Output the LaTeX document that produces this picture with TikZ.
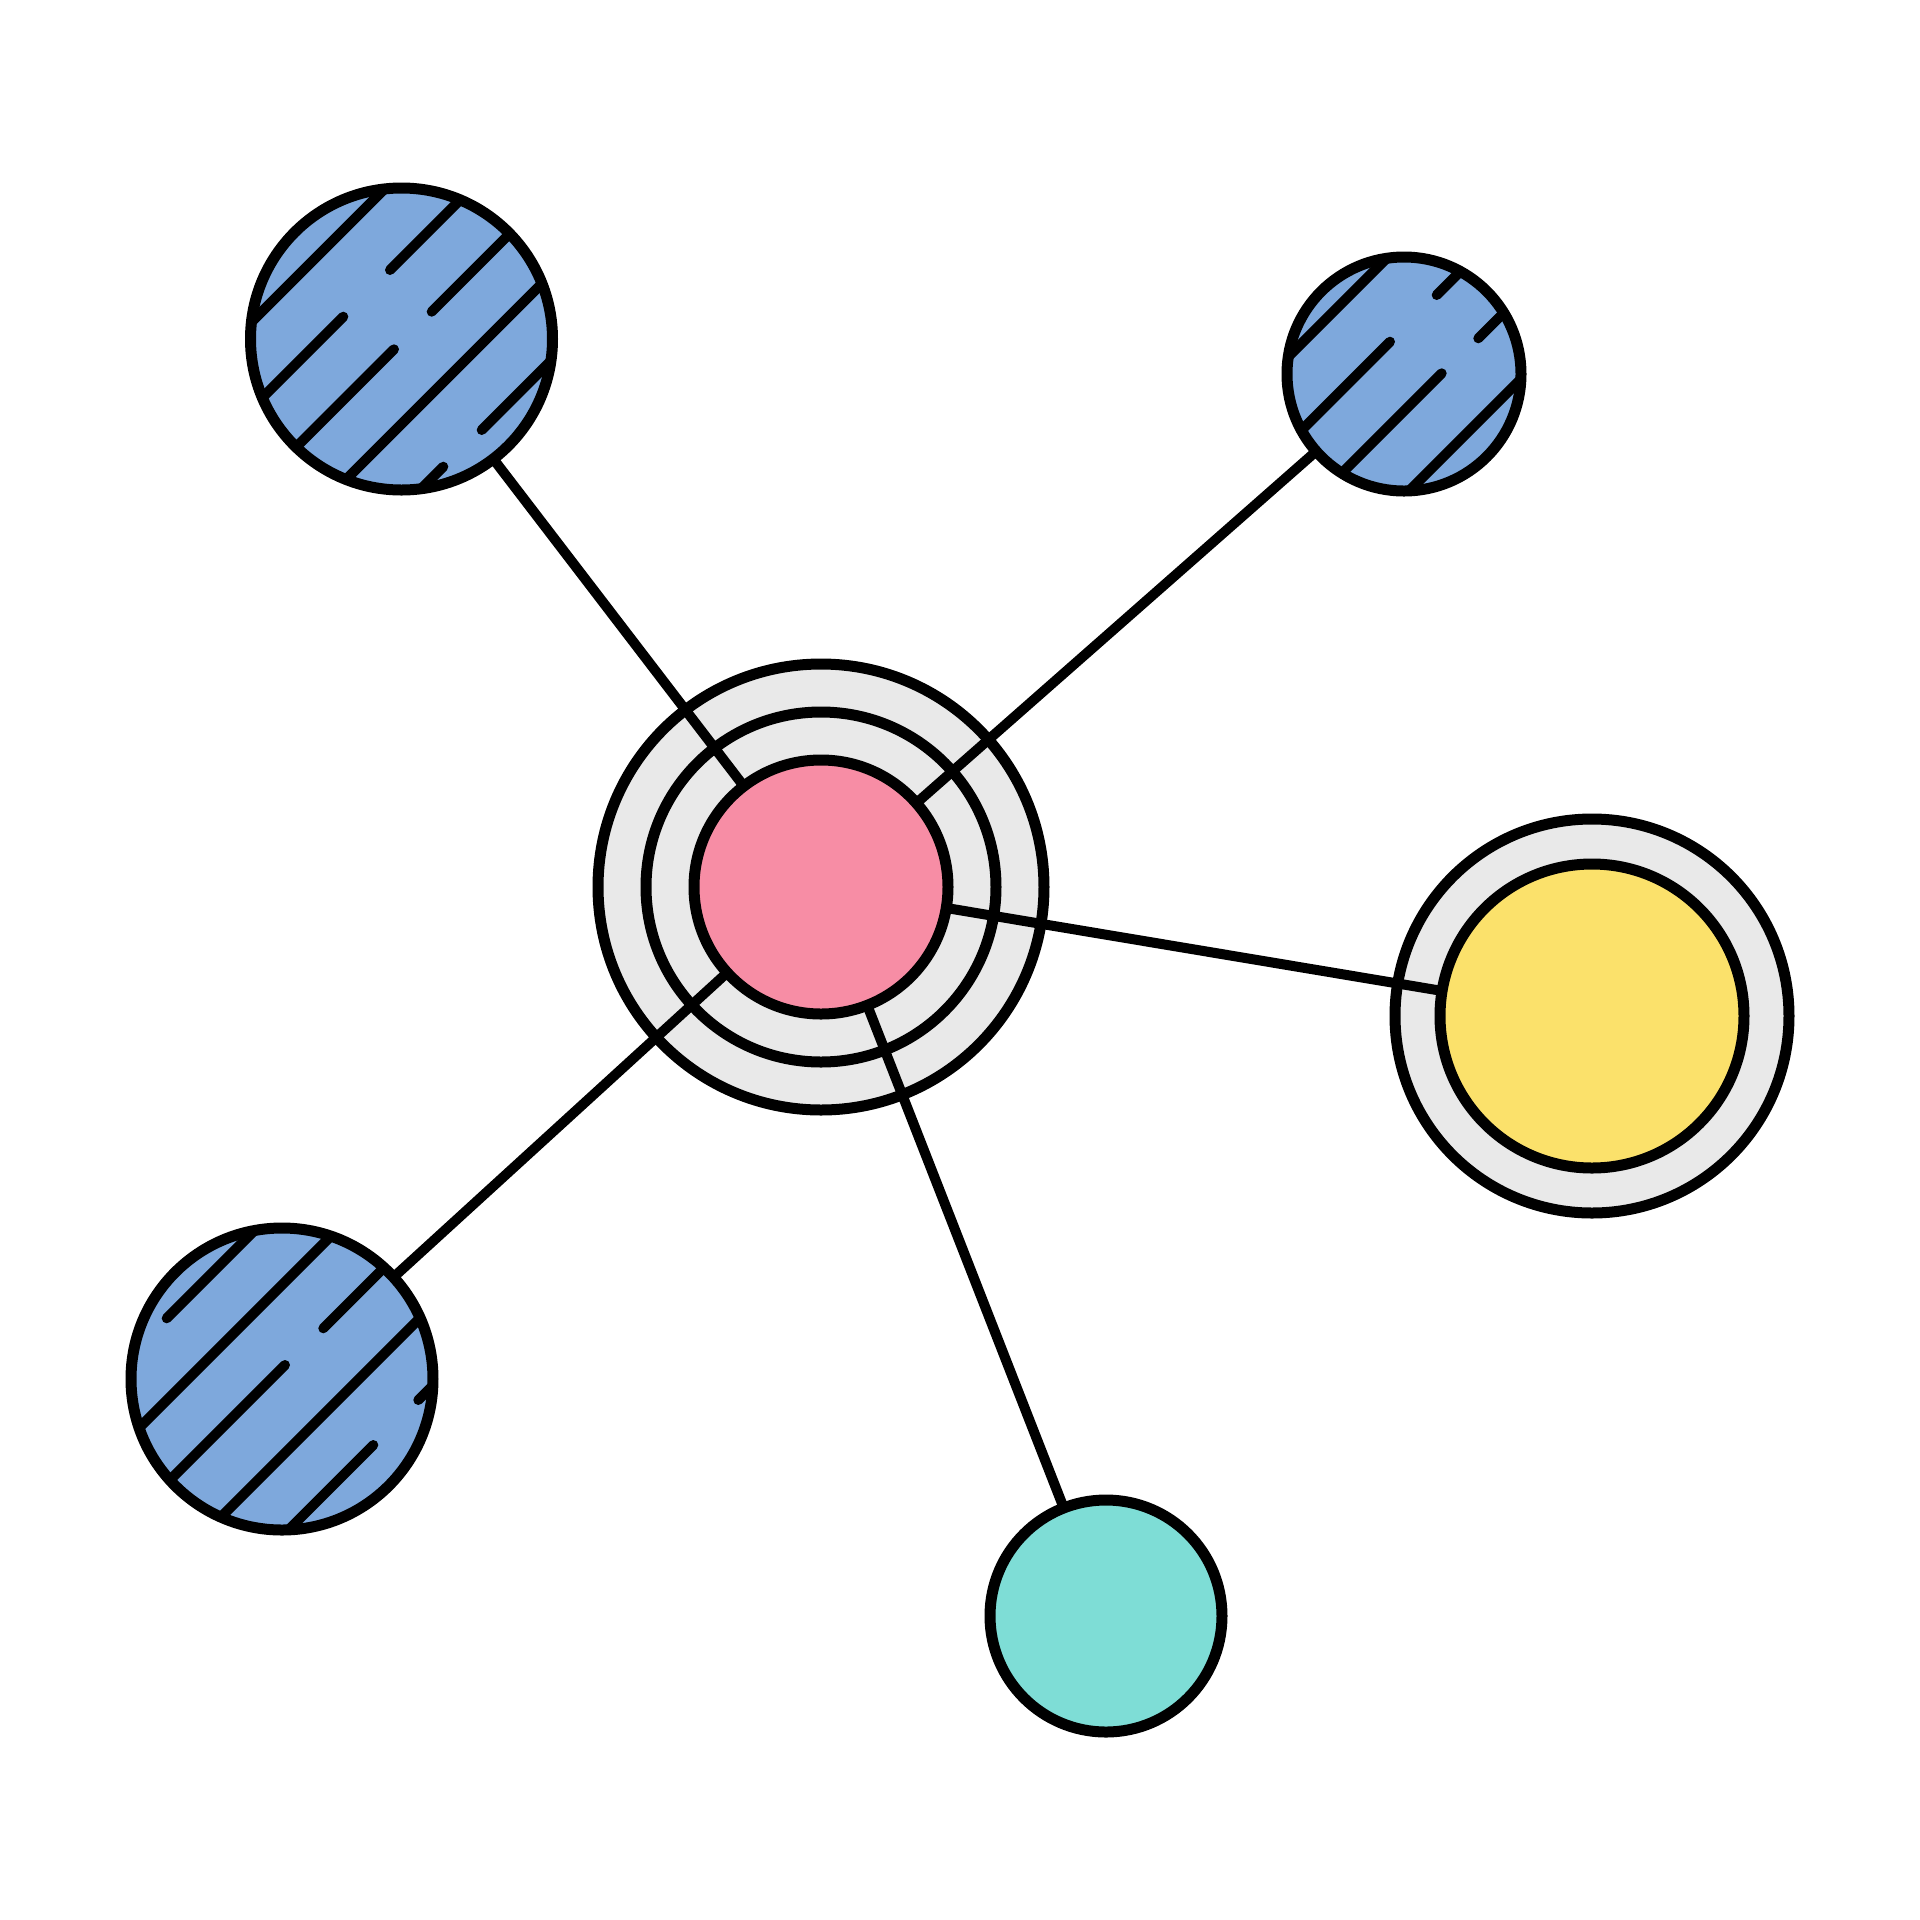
\documentclass[tikz,border=0pt]{standalone}
\usetikzlibrary{calc}
\pgfdeclarelayer{bg}
\pgfdeclarelayer{edges}
\pgfsetlayers{bg,edges,main}
\definecolor{cblue}{HTML}{7EA8DC}
\definecolor{cpink}{HTML}{F78DA5}
\definecolor{cyellow}{HTML}{FBE16B}
\definecolor{cteal}{HTML}{7EDDD6}
\definecolor{cgray}{HTML}{E9E9E9}
\newcommand\hup[2]{\draw[hatch] ($(pp)+(#1,#2)$) -- ++(300,-300);}
\newcommand\hdn[2]{\draw[hatch] ($(pp)+(#1,#2)$) -- ++(-300,300);}
\newcommand\hfl[2]{\draw[hatch] ($(pp)+(#1,#2)+(-300,300)$) -- ++(600,-600);}
\begin{document}
\begin{tikzpicture}[x=0.1mm,y=-0.1mm,
  disc/.style={circle,draw=black,line width=1.1mm,inner sep=0pt,outer sep=0pt,minimum size=#1},
  conn/.style={line width=1.0mm,draw=black},
  hatch/.style={line width=1.0mm,draw=black,line cap=round},
  pp/.style={path picture={\path (path picture bounding box.center) coordinate (pp); #1}}]
\useasboundingbox (0,0) rectangle (1920,1920);

% central rings and yellow ring (background)
\begin{pgfonlayer}{bg}
\node[disc=44.6mm,fill=cgray] (c1) at (821,887) {};
\node[disc=35.0mm,fill=cgray] (c2) at (821,887) {};
\node[disc=39.4mm,fill=cgray] (ylring) at (1592,1016) {};
\end{pgfonlayer}

% main nodes
\node[disc=25.4mm,fill=cpink] (c) at (821,887) {};
\node[disc=30.4mm,fill=cyellow] (yl) at (1592,1016) {};
\node[disc=23.2mm,fill=cteal] (tq) at (1106,1616) {};

\node[disc=30.2mm,fill=cblue,pp={
  \hfl{-83.5}{-83.5}
  \hup{-11.5}{-69}
  \hdn{-58.2}{-22.3}
  \hup{30.2}{-27.3}
  \hdn{-7.5}{10.3}
  \hfl{42.5}{42.5}
  \hup{80.2}{91}
  \hdn{41.8}{127.7}
}] (tl) at (401.5,339) {};

\node[disc=23.4mm,fill=cblue,pp={
  \hfl{-66.5}{-66.5}
  \hup{32.7}{-79}
  \hdn{-14}{-32.3}
  \hup{74.3}{-35.7}
  \hdn{37.7}{-0.7}
  \hfl{61}{61}
}] (tr) at (1404,374) {};

\node[disc=30.2mm,fill=cblue,pp={
  \hup{-115.3}{-60.7}
  \hfl{-47}{-47}
  \hup{41.3}{-50.7}
  \hdn{3}{-14}
  \hfl{38.5}{38.5}
  \hup{136.3}{21}
  \hdn{91.3}{66}
}] (bl) at (282,1379) {};

% connectors
\begin{pgfonlayer}{edges}
\draw[conn] (c.center) -- (tl.center);
\draw[conn] (c.center) -- (tr.center);
\draw[conn] (c.center) -- (bl.center);
\draw[conn] (c.center) -- (yl.center);
\draw[conn] (c.center) -- (tq.center);
\end{pgfonlayer}
\end{tikzpicture}
\end{document}
